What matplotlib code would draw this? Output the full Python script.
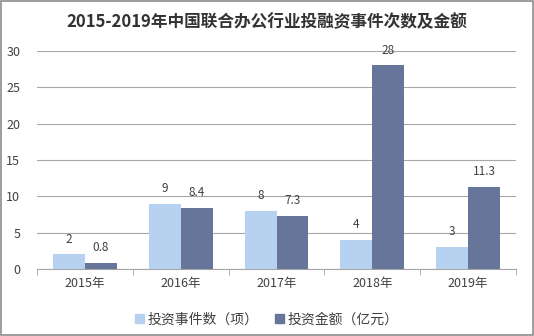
import matplotlib.pyplot as plt
import matplotlib.patches as mpatches
import numpy as np

plt.rcParams['font.family'] = ['Noto Sans CJK SC', 'DejaVu Sans']

years = ['2015年', '2016年', '2017年', '2018年', '2019年']
events = [2, 9, 8, 4, 3]
amounts = [0.8, 8.4, 7.3, 28, 11.3]
event_labels = ['2', '9', '8', '4', '3']
amount_labels = ['0.8', '8.4', '7.3', '28', '11.3']

c_light = '#B6D2F0'
c_dark = '#67759B'
grid_c = '#A6A6A6'

fig = plt.figure(figsize=(5.34, 3.36), dpi=100)
ax = fig.add_axes([0.0693, 0.1994, 0.897, 0.649])

x = np.arange(len(years))
w = 1 / 3
b1 = ax.bar(x - w / 2, events, w, color=c_light, zorder=3)
b2 = ax.bar(x + w / 2, amounts, w, color=c_dark, zorder=3)

# value labels above bars
for rect, t in zip(b1, event_labels):
    ax.text(rect.get_x() + rect.get_width() / 2, rect.get_height() + 1.2, t,
            ha='center', va='bottom', fontsize=8.5, color='#404040')
for rect, t in zip(b2, amount_labels):
    ax.text(rect.get_x() + rect.get_width() / 2, rect.get_height() + 1.2, t,
            ha='center', va='bottom', fontsize=8.5, color='#404040')

ax.set_xlim(-0.5, len(years) - 0.5)
ax.set_ylim(0, 30)
ax.set_yticks(range(0, 31, 5))
ax.yaxis.grid(True, color=grid_c, linewidth=0.8, zorder=0)
ax.set_axisbelow(True)

for s in ['top', 'right', 'left']:
    ax.spines[s].set_visible(False)
ax.spines['bottom'].set_color(grid_c)

ax.set_xticks(x)
ax.set_xticklabels(years, fontsize=9, color='#404040')
ax.tick_params(axis='x', length=0, pad=6)
ax.set_xticks(np.arange(-0.5, len(years)), minor=True)
ax.tick_params(axis='x', which='minor', length=4, color=grid_c)
ax.tick_params(axis='y', length=0, labelsize=9, labelcolor='#404040', pad=12)

fig.text(0.5, 0.935, '2015-2019年中国联合办公行业投融资事件次数及金额',
         ha='center', va='center', fontsize=12, fontweight='bold', color='#333333')

handles = [mpatches.Patch(color=c_light, label='投资事件数（项）'),
           mpatches.Patch(color=c_dark, label='投资金额（亿元）')]
fig.legend(handles=handles, loc='center', bbox_to_anchor=(0.5, 0.05), ncol=2,
           frameon=False, fontsize=10, handlelength=0.6, handleheight=0.6,
           handletextpad=0.3, columnspacing=1.2, labelcolor='#404040')

fig.add_artist(mpatches.Rectangle((0.002, 0.003), 0.996, 0.994, transform=fig.transFigure,
                                  fill=False, edgecolor='#8C8C8C', linewidth=1.2))

fig.savefig('out.png', dpi=100)
